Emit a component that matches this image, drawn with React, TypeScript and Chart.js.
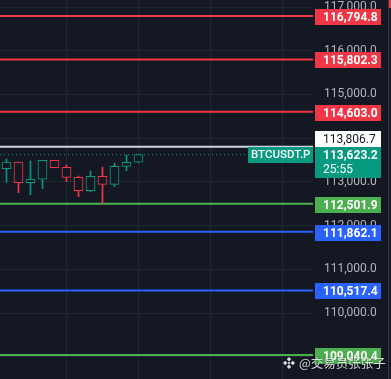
import React, { useEffect, useRef } from "react";
import { Chart, registerables } from "chart.js";

Chart.register(...registerables);

// ---- data ----
const candleIndex = [0, 1, 2, 3, 4, 5, 6, 7, 8, 9, 10, 11];
const candleOpen = [113302, 113455, 112982, 113060, 113494, 113334, 113105, 112799, 113128, 112945, 113357, 113449];
const candleHigh = [113524, 113455, 113478, 113494, 113494, 113387, 113135, 113250, 113341, 113432, 113616, 113623];
const candleLow = [112998, 112753, 112707, 112845, 113325, 113005, 112662, 112776, 112511, 112890, 113256, 113439];
const candleClose = [113455, 112982, 113060, 113494, 113325, 113105, 112799, 113128, 112945, 113357, 113449, 113623.2];

const levelValues = [116794.8, 115802.3, 114603.0, 112501.9, 111862.1, 110517.4, 109040.4];
const levelKinds = ["red", "red", "red", "green", "blue", "blue", "green"];
const prevPrice = 113806.7;
const currentPrice = 113623.2;
const countdownText = "25:55";
const symbolText = "BTCUSDT.P";
const priceTicks = [109000, 110000, 111000, 112000, 113000, 114000, 115000, 116000, 117000];
const timeGridTicks = [5, 11, 17, 23];
const watermarkText = "@交易员张张子";

// ---- styles ----
const BG = "#141823";
const GRID = "#222632";
const UP = "#089981";
const DOWN = "#f23645";
const KIND_COLORS: Record<string, string> = { red: "#f23645", green: "#4caf50", blue: "#2962ff" };
const X_MIN = -0.54;
const X_MAX = 25.54;
const Y_MIN = 108492;
const Y_MAX = 117161;
const FONT = "Roboto, 'Liberation Sans', Arial, sans-serif";

const fmt = (v: number) =>
  v.toLocaleString("en-US", { minimumFractionDigits: 1, maximumFractionDigits: 1 });

const labelPlugin = {
  id: "priceLabels",
  afterDraw(chart: any) {
    const ctx = chart.ctx as CanvasRenderingContext2D;
    const ys = chart.scales.y;
    const area = chart.chartArea;
    const left = ys.left + 2;
    const w = 66;
    ctx.save();
    ctx.textBaseline = "middle";
    ctx.textAlign = "left";
    ctx.font = `bold 12px ${FONT}`;
    levelValues.forEach((v, i) => {
      const py = ys.getPixelForValue(v);
      ctx.fillStyle = KIND_COLORS[levelKinds[i]];
      ctx.fillRect(left, Math.round(py) - 7, w, 16);
      ctx.fillStyle = "#ffffff";
      ctx.fillText(fmt(v), left + 8, Math.round(py) + 1.5);
    });
    // previous close (white) label
    const pw = Math.round(ys.getPixelForValue(prevPrice));
    ctx.fillStyle = "#ffffff";
    ctx.fillRect(left, pw - 16, w, 16);
    ctx.fillStyle = "#131722";
    ctx.font = `12px ${FONT}`;
    ctx.fillText(fmt(prevPrice), left + 8, pw - 7.5);
    // current price label
    const pc = Math.round(ys.getPixelForValue(currentPrice));
    ctx.fillStyle = UP;
    ctx.fillRect(left, pc - 8, w, 31);
    ctx.fillRect(area.right - 65, pc - 8, 65, 16);
    ctx.fillStyle = "#ffffff";
    ctx.font = `bold 12px ${FONT}`;
    ctx.fillText(fmt(currentPrice), left + 8, pc + 0.5);
    ctx.font = `12px ${FONT}`;
    ctx.fillText(countdownText, left + 8, pc + 15);
    ctx.font = `500 11.5px ${FONT}`;
    ctx.fillText(symbolText, area.right - 62, pc + 0.5);
    ctx.restore();
  },
};

export default function App() {
  const ref = useRef<HTMLCanvasElement>(null);
  useEffect(() => {
    document.body.style.margin = "0";
    if (!ref.current) return;
    const lineDs = (v: number, color: string, width: number, dash: number[] = []) => ({
      type: "line" as const,
      data: [
        { x: X_MIN, y: v },
        { x: X_MAX, y: v },
      ],
      borderColor: color,
      borderWidth: width,
      borderDash: dash,
      pointRadius: 0,
      order: 3,
    });
    const colors = candleIndex.map((i) => (candleClose[i] >= candleOpen[i] ? UP : DOWN));
    const chart = new Chart(ref.current, {
      type: "bar",
      data: {
        datasets: [
          ...levelValues.map((v, i) => lineDs(v, KIND_COLORS[levelKinds[i]], 2)),
          lineDs(prevPrice, "#d1d4dc", 2),
          lineDs(currentPrice, UP, 1, [1, 3]),
          {
            type: "bar" as const,
            data: candleIndex.map((i) => ({ x: i, y: [candleLow[i], candleHigh[i]] })),
            backgroundColor: colors,
            borderWidth: 0,
            barThickness: 1,
            grouped: false,
            order: 2,
          } as any,
          {
            type: "bar" as const,
            data: candleIndex.map((i) => ({ x: i, y: [candleOpen[i], candleClose[i]] })),
            backgroundColor: BG,
            borderColor: colors,
            borderWidth: 1,
            borderSkipped: false,
            barThickness: 9,
            grouped: false,
            order: 1,
          } as any,
        ],
      },
      options: {
        animation: false,
        responsive: false,
        layout: { padding: { left: 0, right: 3, top: 0, bottom: 0 } },
        plugins: { legend: { display: false }, tooltip: { enabled: false } },
        scales: {
          x: {
            type: "linear",
            offset: false,
            min: X_MIN,
            max: X_MAX,
            ticks: { display: false },
            grid: { color: GRID, drawTicks: false, offset: false },
            border: { display: false },
            afterBuildTicks: (s: any) => {
              s.ticks = timeGridTicks.map((v) => ({ value: v }));
            },
            afterFit: (s: any) => {
              s.paddingLeft = 0;
              s.paddingRight = 0;
            },
          },
          y: {
            type: "linear",
            position: "right",
            min: Y_MIN,
            max: Y_MAX,
            ticks: {
              color: "#b2b5be",
              font: { family: FONT, size: 12 },
              padding: 11,
              autoSkip: false,
              callback: (v: any) => fmt(Number(v)),
            },
            grid: { color: GRID, drawTicks: false },
            border: { display: false },
            afterBuildTicks: (s: any) => {
              s.ticks = priceTicks.map((v) => ({ value: v }));
            },
            afterFit: (s: any) => {
              s.width = 75;
              s.paddingTop = 0;
              s.paddingBottom = 0;
            },
          },
        },
      } as any,
      plugins: [labelPlugin],
    });
    return () => chart.destroy();
  }, []);

  return (
    <div style={{ position: "relative", width: 391, height: 379, background: BG, overflow: "hidden" }}>
      <canvas ref={ref} width={391} height={379} style={{ display: "block" }} />
      <div style={{ position: "absolute", left: 388, top: 0, width: 1, height: 379, background: "#363a45" }} />
      <div style={{ position: "absolute", left: 389, top: 0, width: 2, height: 8, background: "#f23645" }} />
      <div
        style={{
          position: "absolute",
          left: 283,
          top: 355,
          display: "flex",
          alignItems: "center",
          gap: 4,
          color: "rgba(255,255,255,0.82)",
          fontFamily: "'Noto Sans CJK SC', sans-serif",
          fontSize: 12.5,
          lineHeight: "16px",
          textShadow: "0 0 2px rgba(0,0,0,0.6)",
        }}
      >
        <svg width="12" height="12" viewBox="0 0 12 12">
          <g fill="rgba(255,255,255,0.85)">
            <polygon points="6,0 8.2,2.2 6,4.4 3.8,2.2" />
            <polygon points="6,7.6 8.2,9.8 6,12 3.8,9.8" />
            <polygon points="0,6 2.2,3.8 4.4,6 2.2,8.2" />
            <polygon points="7.6,6 9.8,3.8 12,6 9.8,8.2" />
            <polygon points="6,4.6 7.4,6 6,7.4 4.6,6" />
          </g>
        </svg>
        <span>{watermarkText}</span>
      </div>
    </div>
  );
}
